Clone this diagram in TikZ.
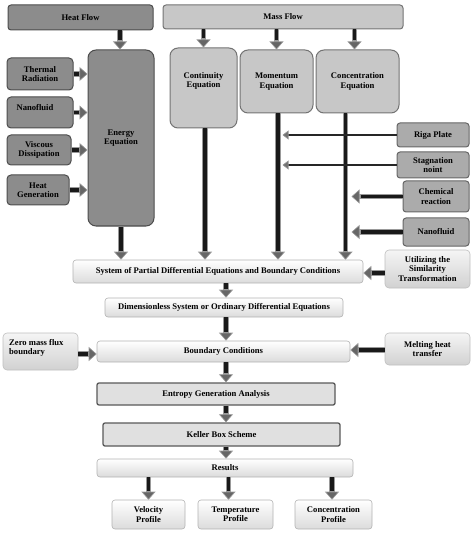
\documentclass[tikz,border=0pt]{standalone}
\usepackage{fontspec}
\setmainfont{Liberation Serif}
\usetikzlibrary{arrows.meta}
\begin{document}
\begin{tikzpicture}[x=1pt,y=-1pt,
  every node/.style={font=\fontsize{8.6}{9.4}\selectfont\bfseries, align=center, inner sep=1pt},
  dk/.style={draw=black!70, fill=black!45, line width=1pt, rounded corners=3pt},
  md/.style={draw=black!55, fill=black!22, line width=1pt, rounded corners=3pt},
  rt/.style={draw=black!60, fill=black!33, line width=1pt, rounded corners=3pt},
  lt/.style={draw=black!30, top color=white, bottom color=black!14, line width=0.6pt, rounded corners=3pt},
  lt2/.style={draw=black!25, top color=black!4, bottom color=black!18, line width=0.6pt, rounded corners=4pt},
  fr/.style={draw=black!65, fill=black!12, line width=1.3pt, rounded corners=2pt},
  fat/.style={draw=black!40, line width=5.5pt,
    -{Triangle[length=8pt,width=14pt,line width=0.6pt,fill=black!60,color=black!40]},
    postaction={draw=black!90, line width=3.5pt, -, shorten >=9pt}},
  thin/.style={draw=black!85, line width=2pt,
    -{Triangle[length=6pt,width=9pt,line width=0.6pt,fill=black!55,color=black!40]}},
]
\useasboundingbox (0,0) rectangle (474,534);
% top row
\node[dk, minimum width=145pt, minimum height=25pt] (heat) at (80.5,17.5) {Heat Flow};
\node[md, minimum width=240pt, minimum height=24pt] (mass) at (283,17) {Mass Flow};
% energy column
\node[dk, rounded corners=8pt, minimum width=66pt, minimum height=176pt] (energy) at (121,138) {Energy\\Equation};
\node[dk, rounded corners=4pt, minimum width=66pt, minimum height=32pt] (therm) at (40,74) {Thermal\\Radiation};
\node[dk, rounded corners=4pt, minimum width=66pt, minimum height=31pt] (nanoA) at (40,112.5) {};
\node at (35,108) {Nanofluid};
\node[dk, rounded corners=4pt, minimum width=64pt, minimum height=30pt] (visc) at (39,150) {Viscous\\Dissipation};
\node[dk, rounded corners=4pt, minimum width=62pt, minimum height=30pt] (hgen) at (38,190) {Heat\\Generation};
% mass equations
\node[md, rounded corners=8pt, minimum width=67pt, minimum height=80pt] (cont) at (203.5,88) {};
\node at (203.5,81) {Continuity\\Equation};
\node[md, rounded corners=8pt, minimum width=73pt, minimum height=63pt] (mom) at (276.5,81.5) {Momentum\\Equation};
\node[md, rounded corners=8pt, minimum width=83pt, minimum height=63pt] (conc) at (357.5,81.5) {Concentration\\Equation};
% right inputs
\node[rt, minimum width=72pt, minimum height=24pt] (riga) at (433,135) {Riga Plate};
\node[rt, minimum width=72pt, minimum height=26pt] (stag) at (433,165) {Stagnation\\noint};
\node[rt, minimum width=66pt, minimum height=31pt] (chem) at (436,196.5) {Chemical\\reaction};
\node[rt, minimum width=66pt, minimum height=28pt] (nanoB) at (436,232) {Nanofluid};
% middle chain
\node[lt, minimum width=290pt, minimum height=23pt] (pde) at (218,271.5) {System of Partial Differential Equations and Boundary Conditions};
\node[lt2, minimum width=85pt, minimum height=38pt] (util) at (427.5,269) {Utilizing the\\Similarity\\Transformation};
\node[lt, minimum width=238pt, minimum height=19pt] (dim) at (224,307.5) {Dimensionless System or Ordinary Differential Equations};
\node[lt, minimum width=253pt, minimum height=21pt] (bc) at (223.5,351.5) {Boundary Conditions};
\node[lt2, minimum width=75pt, minimum height=37pt] (zero) at (40.5,351.5) {};
\node[anchor=north west, align=left] at (8,338) {Zero mass flux\\boundary};
\node[lt2, minimum width=85pt, minimum height=32pt] (melt) at (427.5,349) {Melting heat\\transfer};
\node[fr, minimum width=238pt, minimum height=22pt] (ent) at (216,394) {Entropy Generation Analysis};
\node[fr, minimum width=237pt, minimum height=23pt] (kel) at (221.5,434.5) {Keller Box Scheme};
\node[lt, minimum width=256pt, minimum height=18pt] (res) at (225,468) {Results};
\node[lt, minimum width=73pt, minimum height=29pt] (vel) at (148.5,514.5) {Velocity\\Profile};
\node[lt, minimum width=75pt, minimum height=29pt] (temp) at (235.5,514.5) {Temperature\\Profile};
\node[lt, minimum width=77pt, minimum height=29pt] (concp) at (333.5,514.5) {Concentration\\Profile};
% arrows top
\draw[fat] ([xshift=-1pt]heat.south -| energy.north) -- ([xshift=-1pt]energy.north);
\draw[fat] (mass.south -| cont.north) -- (cont.north);
\draw[fat] (mass.south -| mom.north) -- (mom.north);
\draw[fat] ([xshift=-3pt]mass.south -| conc.north) -- ([xshift=-3pt]conc.north);
% left arrows
\draw[fat] (therm.east) -- (therm.east -| energy.west);
\draw[fat] (nanoA.east) -- (nanoA.east -| energy.west);
\draw[fat] (visc.east) -- (visc.east -| energy.west);
\draw[fat] (hgen.east) -- (hgen.east -| energy.west);
% down to pde
\draw[fat] (energy.south) -- (energy.south |- pde.north);
\draw[fat] ([xshift=1.5pt]cont.south) -- ([xshift=1.5pt]cont.south |- pde.north);
\draw[fat] ([xshift=1.5pt]mom.south) -- ([xshift=1.5pt]mom.south |- pde.north);
\draw[fat] ([xshift=-12pt]conc.south) -- ([xshift=-12pt]conc.south |- pde.north);
% right arrows
\coordinate (momr) at ([xshift=6pt]mom.south);
\coordinate (concr) at ([xshift=-6pt]conc.south);
\draw[thin] (riga.west) -- (riga.west -| momr);
\draw[thin] (stag.west) -- (stag.west -| momr);
\draw[fat] (chem.west) -- (chem.west -| concr);
\draw[fat] (nanoB.west) -- (nanoB.west -| concr);
% chain
\draw[fat] (util.west |- 0,273) -- (pde.east |- 0,273);
\draw[fat] (pde.south -| 226,0) -- (dim.north -| 226,0);
\draw[fat] (dim.south -| 226,0) -- (bc.north -| 226,0);
\draw[fat] (zero.east |- 0,354) -- (bc.west |- 0,354);
\draw[fat] (melt.west |- 0,350) -- (bc.east |- 0,350);
\draw[fat] (bc.south -| 226,0) -- (ent.north -| 226,0);
\draw[fat] (ent.south -| 226,0) -- (kel.north -| 226,0);
\draw[fat] (kel.south -| 226,0) -- (res.north -| 226,0);
\draw[fat] (res.south -| vel.north) -- (vel.north);
\draw[fat] ([xshift=-7pt]res.south -| temp.north) -- ([xshift=-7pt]temp.north);
\draw[fat] (res.south -| 332,0) -- (concp.north -| 332,0);
\end{tikzpicture}
\end{document}
